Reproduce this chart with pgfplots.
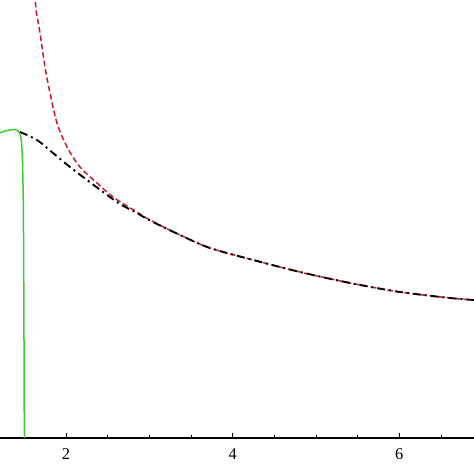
\documentclass[border=0pt]{standalone}
\usepackage{pgfplots}
\pgfplotsset{compat=1.18}
\usepackage{fontspec}
\setmainfont{Liberation Serif}
\definecolor{cred}{RGB}{205,25,45}
\definecolor{cgreen}{RGB}{60,205,50}
\begin{document}
\begin{tikzpicture}
\begin{axis}[
  scale only axis,
  width=474bp, height=438bp,
  xmin=1.208, xmax=6.896,
  ymin=0, ymax=4.38,
  axis x line=bottom,
  axis y line=none,
  axis line style={line width=1.1bp, -},
  xtick={2,4,6},
  xticklabels={2,4,6},
  xticklabel style={font=\fontsize{16.5}{18}\selectfont, anchor=center, yshift=-16bp},
  minor xtick={1.5,2.5,3,3.5,4.5,5,5.5,6.5},
  tick align=inside,
  major tick length=4.5bp,
  minor tick length=2.8bp,
  tick style={black, line width=0.9bp},
  clip=true,
]
\addplot[cred, line width=1.5bp, dash pattern=on 5.5bp off 3bp, smooth, tension=0.5] coordinates {
(1.600,4.70) (1.640,4.29) (1.688,4.05) (1.748,3.71) (1.808,3.45) (1.892,3.15)
(2.012,2.91) (2.168,2.71) (2.372,2.55) (2.564,2.41) (2.85,2.26) (3.008,2.18)
(3.368,2.03) (3.728,1.90) (4.292,1.77) (4.808,1.66) (5.408,1.55)
(6.008,1.46) (6.608,1.40) (6.896,1.38)
};
\addplot[black, line width=1.9bp, dash pattern=on 8bp off 4bp on 2bp off 4bp, smooth, tension=0.5] coordinates {
(1.448,3.06) (1.652,2.98) (1.844,2.85) (2.048,2.71) (2.252,2.58)
(2.444,2.46) (2.648,2.34) (2.85,2.25) (3.008,2.175)
(3.368,2.03) (3.728,1.90) (4.292,1.77) (4.808,1.66) (5.408,1.55)
(6.008,1.46) (6.608,1.40) (6.896,1.38)
};
\addplot[cgreen, line width=1.5bp, smooth, tension=0.4] coordinates {
(1.208,3.05) (1.268,3.07) (1.328,3.08) (1.388,3.085) (1.424,3.07)
(1.448,3.04) (1.466,2.96) (1.478,2.76) (1.488,2.3) (1.495,1.2) (1.500,0)
};
\end{axis}
\pgfresetboundingbox
\path (current axis.south west) ++(0,-36bp) rectangle (current axis.north east);
\end{tikzpicture}
\end{document}
